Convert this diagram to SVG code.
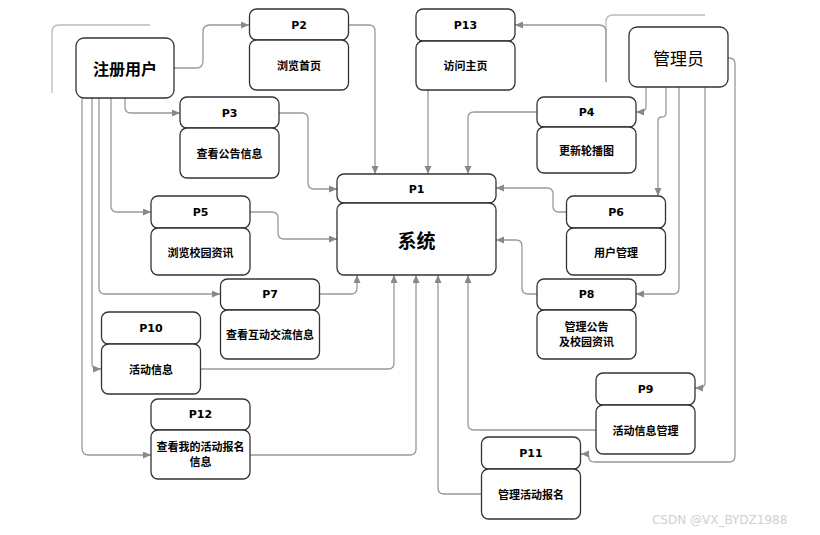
<svg xmlns="http://www.w3.org/2000/svg" width="820" height="535" viewBox="0 0 820 535">
<style>
.bg{fill:#fff}
.box{fill:#fff;stroke:#333;stroke-width:1.3}
.ln{fill:none;stroke:#999;stroke-width:1.3}
.faint{fill:none;stroke:#bbb;stroke-width:1.3}
.hd{font-family:"DejaVu Sans","Noto Sans",sans-serif;font-size:11px;font-weight:bold;fill:#000;text-anchor:middle;dominant-baseline:central}
.lb{font-family:"Noto Sans CJK SC",sans-serif;font-size:11px;font-weight:bold;fill:#000;text-anchor:middle;dominant-baseline:central}
.lb2{font-family:"Noto Sans CJK SC",sans-serif;font-size:11px;font-weight:bold;fill:#000;text-anchor:middle}
.big{font-family:"Noto Sans CJK SC",sans-serif;font-size:16px;fill:#000;text-anchor:middle;dominant-baseline:central}
.wm{font-family:"DejaVu Sans",sans-serif;font-size:12px;fill:#d0d0d0}
</style>
<defs>
<marker id="ah" markerUnits="userSpaceOnUse" markerWidth="9" markerHeight="8" refX="8" refY="3.5" orient="auto">
<path d="M0,0 L8,3.5 L0,7 z" fill="#888"/>
</marker>
</defs>
<rect class="bg" x="0" y="0" width="820" height="535"/>
<g id="connectors">
<path class="faint" d="M52,93 V32 Q52,25 59,25 H150"/>
<path class="faint" d="M606,82 V22 Q606,15 613,15 H705"/>
<path class="ln" marker-end="url(#ah)" d="M174,68 H196 Q203,68 203,61 V32 Q203,25 210,25 H249"/>
<path class="ln" marker-end="url(#ah)" d="M349,25 H369 Q375,25 375,31 V174"/>
<path class="ln" marker-end="url(#ah)" d="M125,98 V107 Q125,113 131,113 H180"/>
<path class="ln" marker-end="url(#ah)" d="M279,113 H302 Q308,113 308,119 V183 Q308,189 314,189 H337"/>
<path class="ln" marker-end="url(#ah)" d="M428,90 V174"/>
<path class="ln" marker-end="url(#ah)" d="M606,82 V32 Q606,25 599,25 H515"/>
<path class="ln" marker-end="url(#ah)" d="M646,87 V106 Q646,112 640,112 H636"/>
<path class="ln" marker-end="url(#ah)" d="M537,112 H474 Q468,112 468,118 V174"/>
<path class="ln" marker-end="url(#ah)" d="M666,87 V113 Q666,117 662,117 Q658,117 658,121 V196"/>
<path class="ln" marker-end="url(#ah)" d="M566,212 H559 Q553,212 553,206 V194 Q553,188 547,188 H496"/>
<path class="ln" marker-end="url(#ah)" d="M537,294 H528 Q522,294 522,288 V246 Q522,240 516,240 H496"/>
<path class="ln" marker-end="url(#ah)" d="M679,87 V288 Q679,294 673,294 H636"/>
<path class="ln" marker-end="url(#ah)" d="M705,87 V382 Q705,388 699,388 H695"/>
<path class="ln" marker-end="url(#ah)" d="M728,58 H729 Q735,58 735,64 V456 Q735,462 729,462 H595 Q589,462 589,458 Q589,454 585,454 H581"/>
<path class="ln" marker-end="url(#ah)" d="M596,430 H474 Q468,430 468,424 V275"/>
<path class="ln" marker-end="url(#ah)" d="M481,494 H444 Q438,494 438,488 V275"/>
<path class="ln" marker-end="url(#ah)" d="M250,455 H410 Q416,455 416,449 V275"/>
<path class="ln" marker-end="url(#ah)" d="M200,369 H388 Q394,369 394,363 V275"/>
<path class="ln" marker-end="url(#ah)" d="M319,294 H351 Q357,294 357,288 V275"/>
<path class="ln" marker-end="url(#ah)" d="M250,212 H272 Q278,212 278,218 V233 Q278,239 284,239 H337"/>
<path class="ln" marker-end="url(#ah)" d="M111,98 V206 Q111,212 117,212 H151"/>
<path class="ln" marker-end="url(#ah)" d="M99,98 V288 Q99,294 105,294 H220"/>
<path class="ln" marker-end="url(#ah)" d="M92,98 V363 Q92,369 98,369 H101"/>
<path class="ln" marker-end="url(#ah)" d="M82,98 V448 Q82,455 89,455 H151"/>
</g>
<g id="user">
<rect class="box" x="76" y="38" width="98" height="60" rx="8"/>
<text class="big" x="125" y="68" font-weight="bold">注册用户</text>
</g>
<g id="admin">
<rect class="box" x="629" y="27" width="99" height="60" rx="8"/>
<text class="big" x="678.5" y="57" style="font-size:17px">管理员</text>
</g>
<g id="P1">
<rect class="box" x="337" y="174" width="159" height="29" rx="7"/>
<rect class="box" x="337" y="203" width="159" height="72" rx="7"/>
<text class="hd" x="416.5" y="189">P1</text>
<text class="big" x="416.5" y="239" font-weight="bold" style="font-size:19px">系统</text>
</g>
<g id="P2">
<rect class="box" x="249.5" y="9" width="99" height="31" rx="7"/>
<rect class="box" x="249.5" y="40" width="99" height="50" rx="7"/>
<text class="hd" x="299" y="25">P2</text>
<text class="lb" x="299" y="65">浏览首页</text>
</g>
<g id="P3">
<rect class="box" x="180" y="97" width="99" height="31" rx="7"/>
<rect class="box" x="180" y="128" width="99" height="50" rx="7"/>
<text class="hd" x="229.5" y="113">P3</text>
<text class="lb" x="229.5" y="153">查看公告信息</text>
</g>
<g id="P13">
<rect class="box" x="416" y="9" width="99" height="32" rx="7"/>
<rect class="box" x="416" y="41" width="99" height="49" rx="7"/>
<text class="hd" x="465.5" y="25">P13</text>
<text class="lb" x="465.5" y="65">访问主页</text>
</g>
<g id="P4">
<rect class="box" x="537" y="97" width="99" height="30" rx="7"/>
<rect class="box" x="537" y="127" width="99" height="46" rx="7"/>
<text class="hd" x="586.5" y="112">P4</text>
<text class="lb" x="586.5" y="150">更新轮播图</text>
</g>
<g id="P5">
<rect class="box" x="151" y="196" width="99" height="32" rx="7"/>
<rect class="box" x="151" y="228" width="99" height="47" rx="7"/>
<text class="hd" x="200.5" y="212">P5</text>
<text class="lb" x="200.5" y="252">浏览校园资讯</text>
</g>
<g id="P6">
<rect class="box" x="566.5" y="196" width="99" height="32" rx="7"/>
<rect class="box" x="566.5" y="228" width="99" height="47" rx="7"/>
<text class="hd" x="616" y="212">P6</text>
<text class="lb" x="616" y="252">用户管理</text>
</g>
<g id="P7">
<rect class="box" x="220.5" y="279" width="99" height="31" rx="7"/>
<rect class="box" x="220.5" y="310" width="99" height="49" rx="7"/>
<text class="hd" x="270" y="294">P7</text>
<text class="lb" x="270" y="334">查看互动交流信息</text>
</g>
<g id="P8">
<rect class="box" x="537" y="279" width="99" height="31" rx="7"/>
<rect class="box" x="537" y="310" width="99" height="49" rx="7"/>
<text class="hd" x="586.5" y="294">P8</text>
<text class="lb2" x="586.5" y="331">管理公告</text>
<text class="lb2" x="586.5" y="346">及校园资讯</text>
</g>
<g id="P10">
<rect class="box" x="101.5" y="312" width="99" height="32" rx="7"/>
<rect class="box" x="101.5" y="344" width="99" height="50" rx="7"/>
<text class="hd" x="151" y="328">P10</text>
<text class="lb" x="151" y="369">活动信息</text>
</g>
<g id="P9">
<rect class="box" x="596" y="373" width="99" height="32" rx="7"/>
<rect class="box" x="596" y="405" width="99" height="49" rx="7"/>
<text class="hd" x="645.5" y="389">P9</text>
<text class="lb" x="645.5" y="430">活动信息管理</text>
</g>
<g id="P12">
<rect class="box" x="151" y="399" width="99" height="31" rx="7"/>
<rect class="box" x="151" y="430" width="99" height="49" rx="7"/>
<text class="hd" x="200.5" y="414">P12</text>
<text class="lb2" x="200.5" y="451">查看我的活动报名</text>
<text class="lb2" x="200.5" y="466">信息</text>
</g>
<g id="P11">
<rect class="box" x="481.5" y="437" width="99" height="32" rx="7"/>
<rect class="box" x="481.5" y="469" width="99" height="50" rx="7"/>
<text class="hd" x="531" y="453">P11</text>
<text class="lb" x="531" y="494">管理活动报名</text>
</g>
<text class="wm" x="652" y="524">CSDN @VX_BYDZ1988</text>
</svg>
